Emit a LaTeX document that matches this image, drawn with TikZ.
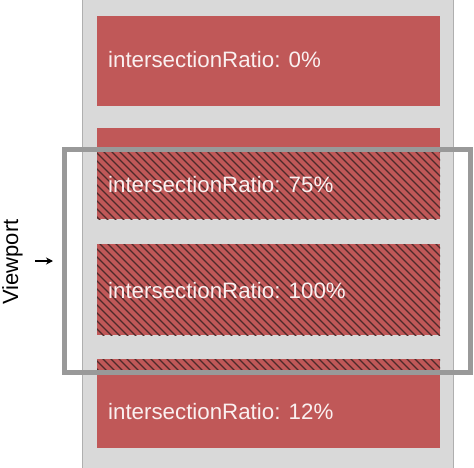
\documentclass[tikz,border=0pt]{standalone}
\usepackage{fontspec}
\setmainfont{Liberation Sans}
\usetikzlibrary{arrows.meta}
\definecolor{boxred}{HTML}{C05858}
\definecolor{colgray}{HTML}{D9D9D9}
\definecolor{colborder}{HTML}{AFAFAF}
\definecolor{vpgray}{HTML}{999999}
\definecolor{hatchc}{HTML}{4E2A2A}
\definecolor{txtc}{HTML}{FAF0F0}
\tikzset{
  redbox/.style={fill=boxred, draw=none, minimum width=343pt, inner sep=0pt, outer sep=0pt},
  ratiotext/.style={anchor=base west, text=txtc, inner sep=0pt, font=\fontsize{22.3}{26}\selectfont},
  hatchline/.style={draw=hatchc, line width=1.2pt},
  viewport/.style={draw=vpgray, line width=5pt},
  column/.style={fill=colgray, draw=colborder, line width=1pt},
}
\begin{document}
\begin{tikzpicture}[x=1pt, y=-1pt]
\useasboundingbox (0,0) rectangle (474,468);
% column
\path[column] (82.5,-2) rectangle (453,470);
% red boxes
\node[redbox, minimum height=90pt] (b1) at (268.5,61) {};
\node[redbox, minimum height=91pt] (b2) at (268.5,173.5) {};
\node[redbox, minimum height=91pt] (b3) at (268.5,289.5) {};
\node[redbox, minimum height=89pt] (b4) at (268.5,403.5) {};
% hatching inside the viewport
\begin{scope}
  \clip (64.5,150) rectangle (470.5,372.5);
  \foreach \b in {b2,b3,b4}{
    \begin{scope}
      \clip (\b.north west) rectangle (\b.south east);
      \foreach \k in {-260,-252,...,450}{
        \draw[hatchline] (\k,100) -- ++(400,400);
      }
    \end{scope}
  }
\end{scope}
% texts
\node[ratiotext] (t1) at (108,68) {intersectionRatio: 0\%};
\node[ratiotext] (t2) at (108,193) {intersectionRatio: 75\%};
\node[ratiotext] (t3) at (108,298) {intersectionRatio: 100\%};
\node[ratiotext] (t4) at (108,419) {intersectionRatio: 12\%};
% viewport
\draw[viewport] (64.5,150) rectangle (470.5,372.5);
\node[rotate=90, inner sep=0pt, font=\fontsize{22}{26}\selectfont] (vp) at (12.5,262) {Viewport};
\coordinate (a0) at (35,261);
\coordinate (a1) at (53,261);
\draw[line width=1.2pt, -{Stealth[length=7pt,width=7pt]}] (a0) -- (a1);
\end{tikzpicture}
\end{document}
